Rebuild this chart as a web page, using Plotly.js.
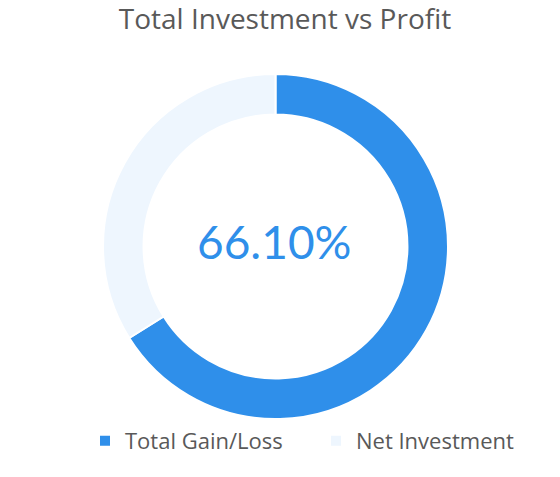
<!DOCTYPE html>
<html>
<head>
<meta charset="utf-8">
<script src="https://cdn.plot.ly/plotly-3.0.1.min.js"></script>
<style>html,body{margin:0;padding:0;background:#fff;}#chart{width:560px;height:477px;}</style>
</head>
<body>
<div id="chart"></div>
<script>
const labels = ["Total Gain/Loss", "Net Investment"];
const values = [66.1, 33.9];
const colors = ["#2F8FEA", "#EEF6FE"];
const centerLabel = "66.10%";
const chartTitle = "Total Investment vs Profit";

const W = 560, H = 477;
const cx = 275.5, cy = 246.5, R = 172.5;

const trace = {
  type: "pie",
  labels: labels,
  values: values,
  hole: 0.765,
  sort: false,
  direction: "clockwise",
  rotation: 0,
  textinfo: "none",
  hoverinfo: "label+value",
  marker: { colors: colors, line: { color: "#ffffff", width: 2 } },
  domain: { x: [(cx - R) / W, (cx + R) / W], y: [(H - cy - R) / H, (H - cy + R) / H] }
};

const layout = {
  width: W, height: H,
  margin: { l: 0, r: 0, t: 0, b: 0 },
  paper_bgcolor: "#ffffff",
  font: { family: "'Open Sans', Lato, sans-serif", color: "#595959" },
  title: {
    text: chartTitle,
    font: { size: 28, color: "#595959", family: "'Open Sans', sans-serif" },
    x: 285 / W, xanchor: "center", xref: "paper",
    y: 1 - 19 / H, yanchor: "middle", yref: "container"
  },
  showlegend: true,
  legend: {
    orientation: "h",
    x: 85 / W, xanchor: "left",
    y: 1 - 441 / H, yanchor: "middle",
    font: { size: 22, color: "#595959", family: "'Open Sans', sans-serif" },
    itemwidth: 30,
    entrywidth: 186,
    bgcolor: "rgba(0,0,0,0)"
  },
  annotations: [{
    text: centerLabel,
    x: 273.5 / W, y: 1 - 242 / H, xref: "paper", yref: "paper",
    xanchor: "center", yanchor: "middle",
    showarrow: false,
    font: { size: 46, color: "#2F8FEA", family: "Lato, sans-serif" }
  }]
};

Plotly.newPlot("chart", [trace], layout, { displayModeBar: false, staticPlot: true });
</script>
</body>
</html>
